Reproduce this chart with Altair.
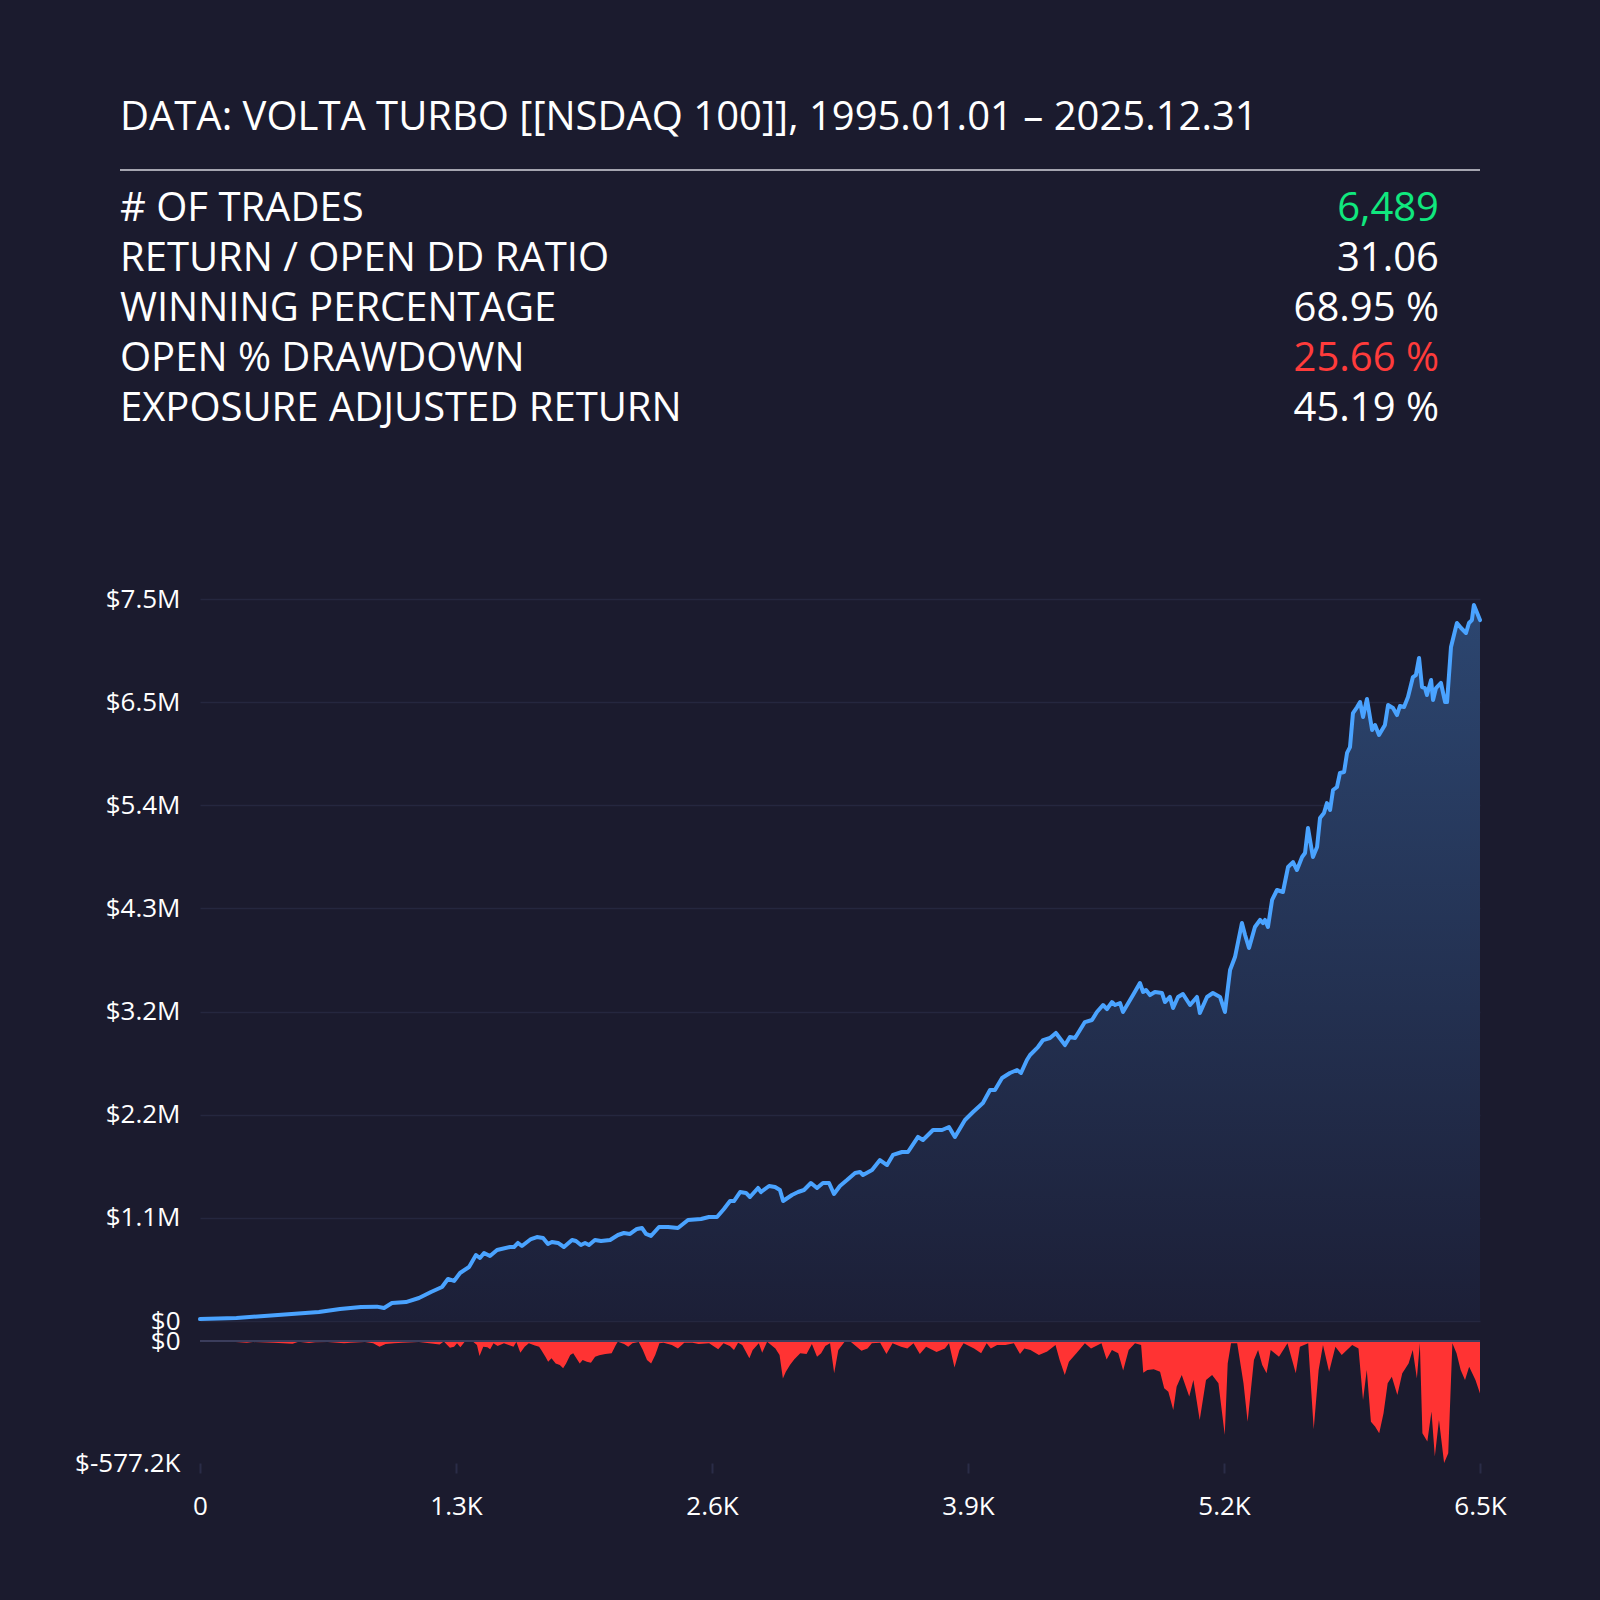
import altair as alt
import pandas as pd

# ---- header text ----
TITLE = "DATA: VOLTA TURBO [[NSDAQ 100]], 1995.01.01 \u2013 2025.12.31"
stat_labels = [
    "# OF TRADES",
    "RETURN / OPEN DD RATIO",
    "WINNING PERCENTAGE",
    "OPEN % DRAWDOWN",
    "EXPOSURE ADJUSTED RETURN",
]
stat_values = ["6,489", "31.06", "68.95 %", "25.66 %", "45.19 %"]
stat_colors = ["#10e87e", "#ffffff", "#ffffff", "#ff3b3b", "#ffffff"]

# ---- equity curve (trade number, equity in $K) ----
equity_trade = [
    0, 185, 395, 603, 710, 816, 897, 933, 973, 1044,
    1110, 1171, 1227, 1257, 1288, 1318, 1364, 1399, 1419, 1440,
    1470, 1506, 1572, 1592, 1612, 1632, 1678, 1708, 1739, 1764,
    1784, 1815, 1845, 1886, 1906, 1931, 1952, 1972, 2002, 2033,
    2079, 2119, 2149, 2180, 2215, 2241, 2261, 2286, 2327, 2373,
    2423, 2474, 2540, 2580, 2621, 2656, 2687, 2707, 2738, 2768,
    2788, 2829, 2844, 2885, 2915, 2940, 2956, 3001, 3032, 3062,
    3097, 3128, 3158, 3189, 3214, 3244, 3280, 3321, 3346, 3361,
    3407, 3447, 3483, 3513, 3559, 3589, 3640, 3665, 3716, 3762,
    3797, 3827, 3878, 3919, 3969, 4005, 4030, 4066, 4106, 4142,
    4162, 4192, 4208, 4248, 4274, 4309, 4339, 4385, 4410, 4436,
    4486, 4522, 4547, 4578, 4598, 4623, 4639, 4664, 4679, 4730,
    4765, 4781, 4796, 4816, 4841, 4877, 4892, 4917, 4933, 4958,
    4983, 5019, 5054, 5069, 5105, 5135, 5171, 5196, 5222, 5247,
    5282, 5298, 5318, 5348, 5374, 5389, 5399, 5414, 5435, 5460,
    5490, 5516, 5541, 5561, 5587, 5602, 5617, 5642, 5663, 5678,
    5698, 5713, 5729, 5744, 5764, 5779, 5800, 5815, 5830, 5845,
    5866, 5881, 5896, 5916, 5942, 5957, 5977, 6007, 6023, 6048,
    6068, 6083, 6104, 6124, 6149, 6164, 6180, 6195, 6210, 6220,
    6241, 6251, 6266, 6291, 6312, 6322, 6342, 6372, 6393, 6418,
    6433, 6448, 6458, 6489,
]
equity_k = [
    20, 31, 63, 94, 125, 146, 150, 136, 188, 198,
    240, 303, 355, 439, 418, 501, 564, 689, 658, 710,
    679, 741, 773, 773, 815, 783, 856, 877, 867, 804,
    825, 815, 773, 846, 835, 794, 815, 794, 846, 835,
    846, 898, 919, 909, 961, 971, 909, 888, 982, 982,
    971, 1055, 1065, 1086, 1086, 1170, 1253, 1253, 1347, 1337,
    1295, 1389, 1347, 1410, 1399, 1368, 1253, 1316, 1347, 1368,
    1441, 1389, 1441, 1441, 1326, 1410, 1472, 1546, 1556, 1525,
    1577, 1681, 1629, 1734, 1765, 1765, 1922, 1890, 1995, 1995,
    2026, 1922, 2099, 2183, 2277, 2412, 2412, 2538, 2590, 2621,
    2590, 2726, 2778, 2861, 2934, 2955, 3008, 2882, 2966, 2955,
    3122, 3143, 3227, 3300, 3258, 3331, 3300, 3321, 3227, 3404,
    3530, 3436, 3457, 3404, 3436, 3425, 3331, 3384, 3269, 3384,
    3415, 3300, 3384, 3216, 3384, 3425, 3384, 3227, 3666, 3801,
    4156, 4031, 3895, 4115, 4188, 4156, 4188, 4115, 4397, 4501,
    4480, 4741, 4793, 4710, 4846, 4887, 5148, 4846, 4950, 5253,
    5305, 5409, 5336, 5545, 5577, 5723, 5733, 5932, 5994, 6349,
    6412, 6464, 6308, 6496, 6172, 6224, 6120, 6224, 6433, 6402,
    6328, 6422, 6412, 6516, 6725, 6746, 6924, 6621, 6610, 6537,
    6694, 6485, 6610, 6663, 6464, 6464, 7039, 7289, 7237, 7185,
    7289, 7320, 7477, 7320,
]

# ---- open drawdown (trade number, depth in $K) ----
dd_trade = [
    0, 80, 143, 237, 269, 374, 469, 500, 553, 584,
    647, 731, 763, 836, 878, 910, 941, 984, 1026, 1110,
    1215, 1236, 1267, 1288, 1303, 1320, 1341, 1383, 1404, 1417,
    1436, 1457, 1471, 1488, 1509, 1541, 1572, 1589, 1604, 1624,
    1646, 1667, 1698, 1719, 1730, 1751, 1765, 1782, 1803, 1824,
    1841, 1856, 1877, 1892, 1908, 1925, 1940, 1961, 1982, 2003,
    2024, 2055, 2087, 2108, 2118, 2150, 2171, 2192, 2224, 2245,
    2266, 2287, 2308, 2329, 2350, 2392, 2423, 2455, 2497, 2528,
    2581, 2602, 2627, 2654, 2686, 2707, 2728, 2749, 2785, 2802,
    2833, 2850, 2875, 2917, 2938, 2955, 2970, 2991, 3012, 3043,
    3075, 3102, 3128, 3149, 3170, 3194, 3215, 3236, 3268, 3300,
    3353, 3384, 3406, 3448, 3480, 3511, 3554, 3586, 3617, 3649,
    3681, 3734, 3776, 3797, 3825, 3850, 3871, 3924, 3960, 3988,
    4009, 4041, 4083, 4126, 4157, 4179, 4210, 4253, 4295, 4337,
    4358, 4384, 4405, 4443, 4486, 4517, 4570, 4596, 4623, 4655,
    4680, 4708, 4740, 4771, 4782, 4803, 4835, 4867, 4888, 4909,
    4934, 4951, 4977, 5015, 5036, 5068, 5100, 5131, 5163, 5195,
    5210, 5227, 5258, 5290, 5311, 5343, 5364, 5385, 5407, 5428,
    5470, 5513, 5555, 5576, 5618, 5646, 5671, 5693, 5724, 5756,
    5788, 5841, 5873, 5896, 5915, 5936, 5957, 5978, 6000, 6021,
    6042, 6070, 6095, 6127, 6148, 6169, 6184, 6197, 6222, 6243,
    6260, 6281, 6307, 6328, 6349, 6370, 6391, 6413, 6434, 6466,
    6489,
]
dd_k = [
    0, 3, 2, 8, 5, 8, 13, 3, 9, 6,
    5, 11, 8, 5, 11, 27, 14, 11, 8, 5,
    17, 2, 32, 27, 11, 30, 5, 2, 19, 71,
    27, 30, 39, 11, 24, 11, 21, 27, 5, 55,
    27, 11, 21, 27, 43, 74, 98, 82, 106, 114,
    129, 106, 66, 58, 82, 106, 90, 98, 103, 74,
    68, 61, 58, 19, 3, 14, 27, 11, 5, 43,
    90, 106, 66, 11, 8, 19, 35, 8, 8, 14,
    11, 24, 39, 11, 24, 43, 8, 19, 82, 43,
    11, 55, 3, 35, 66, 177, 145, 114, 87, 58,
    61, 14, 74, 58, 24, 11, 153, 43, 3, 5,
    46, 35, 11, 8, 61, 11, 27, 35, 11, 61,
    27, 52, 35, 11, 125, 43, 11, 35, 58, 11,
    35, 19, 19, 11, 61, 35, 43, 66, 50, 19,
    90, 161, 98, 58, 11, 35, 11, 87, 43, 58,
    140, 43, 11, 19, 150, 137, 134, 145, 224, 240,
    327, 216, 161, 263, 185, 374, 185, 161, 200, 445,
    106, 11, 11, 200, 382, 90, 43, 113, 153, 43,
    74, 11, 153, 27, 11, 418, 137, 19, 145, 27,
    66, 19, 35, 279, 137, 382, 405, 437, 342, 200,
    169, 255, 153, 106, 43, 177, 11, 437, 476, 334,
    547, 374, 577.2, 531, 11, 58, 137, 185, 122, 185,
    248,
]

TOTAL_TRADES = 6489
EQUITY_TOP = 7.54e6
DD_BOTTOM = -577200

BG = "#1b1b2e"
FONT = "Open Sans"
TEXT = "#ffffff"

equity_df = pd.DataFrame({"trade": equity_trade, "equity": [v * 1000 for v in equity_k]})
dd_df = pd.DataFrame({"trade": dd_trade, "dd": [-v * 1000 for v in dd_k]})
stats_df = pd.DataFrame({
    "row": list(range(len(stat_labels))),
    "label": stat_labels,
    "value": stat_values,
    "color": stat_colors,
})

x_ticks = [TOTAL_TRADES * i / 5 for i in range(6)]
y_ticks = [EQUITY_TOP * i / 7 for i in range(8)]
x_scale = alt.Scale(domain=[0, TOTAL_TRADES], nice=False, zero=False)
one_row = pd.DataFrame({"t": [0]})

# ---- header: title, divider and stat rows ----
row_y = alt.Y("row:O", axis=None, scale=alt.Scale(type="point", range=[130, 330], padding=0))
# transparent frame rule that pins the canvas' top-left corner
frame_top = alt.Chart(one_row).mark_rule(color=BG, opacity=0).encode(
    x=alt.value(-200), x2=alt.value(1400), y=alt.value(-79)
)
title_mark = alt.Chart(pd.DataFrame({"t": [TITLE]})).mark_text(
    align="left", baseline="middle", font=FONT, fontSize=40, color=TEXT
).encode(x=alt.value(-80), y=alt.value(39), text="t:N")
divider = alt.Chart(one_row).mark_rule(
    color="#d4d4dc", strokeWidth=1.5
).encode(x=alt.value(-80), x2=alt.value(1280), y=alt.value(91))
stat_names = alt.Chart(stats_df).mark_text(
    align="left", baseline="middle", font=FONT, fontSize=40, color=TEXT
).encode(x=alt.value(-80), y=row_y, text="label:N")
stat_nums = alt.Chart(stats_df).mark_text(
    align="right", baseline="middle", font=FONT, fontSize=40
).encode(x=alt.value(1239), y=row_y, text="value:N", color=alt.Color("color:N", scale=None))
header = alt.layer(frame_top, title_mark, divider, stat_names, stat_nums).properties(
    width=1280, height=500
)

# ---- equity panel ----
equity_y = alt.Y(
    "equity:Q",
    scale=alt.Scale(domain=[0, EQUITY_TOP], nice=False),
    axis=alt.Axis(
        values=y_ticks,
        labelExpr="datum.value == 0 ? '$0' : '$' + format(datum.value / 1000000, '.1f') + 'M'",
        grid=True, gridColor="#25273f", gridWidth=1.5,
        ticks=False, domain=False, labelPadding=20, title=None,
    ),
)
equity_x = alt.X("trade:Q", scale=x_scale, axis=None)
fill = alt.Gradient(
    gradient="linear",
    stops=[alt.GradientStop(color="#2c4670", offset=0), alt.GradientStop(color="#1c1f37", offset=1)],
    x1=0, x2=0, y1=0, y2=1,
)
equity_area = alt.Chart(equity_df).mark_area(color=fill).encode(x=equity_x, y=equity_y)
equity_line = alt.Chart(equity_df).mark_line(
    color="#4aa3ff", strokeWidth=4, strokeJoin="round", strokeCap="round"
).encode(x=equity_x, y="equity:Q")
equity_panel = alt.layer(equity_area, equity_line).properties(width=1280, height=722)

# ---- drawdown panel ----
dd_x = alt.X(
    "trade:Q", scale=x_scale,
    axis=alt.Axis(
        values=x_ticks,
        labelExpr="datum.value == 0 ? '0' : format(datum.value / 1000, '.1f') + 'K'",
        grid=False, domain=False, tickColor="#2a2c47", tickSize=10, tickWidth=2,
        labelPadding=20, labelFlush=False, title=None,
    ),
)
dd_y = alt.Y(
    "dd:Q",
    scale=alt.Scale(domain=[DD_BOTTOM, 0], nice=False),
    axis=alt.Axis(
        values=[0, DD_BOTTOM],
        labelExpr="datum.value == 0 ? '$0' : '$' + (round(datum.value / 100) / 10) + 'K'",
        grid=False, ticks=False, domain=False, labelPadding=20, title=None,
    ),
)
dd_area = alt.Chart(dd_df).mark_area(color="#ff3333").encode(x=dd_x, y=dd_y)
zero_line = alt.Chart(pd.DataFrame({"dd": [0]})).mark_rule(
    color="#3b3d5c", strokeWidth=2
).encode(y="dd:Q")
# transparent rule that pins the canvas' bottom edge
frame_bottom = alt.Chart(one_row).mark_rule(color=BG, opacity=0).encode(
    x=alt.value(0), x2=alt.value(10), y=alt.value(259)
)
dd_panel = alt.layer(dd_area, zero_line, frame_bottom).properties(width=1280, height=122)

chart = (
    alt.vconcat(header, equity_panel, dd_panel, spacing=20, bounds="flush")
    .properties(padding={"left": 0, "top": 0, "right": 0, "bottom": 0})
    .configure(background=BG)
    .configure_view(stroke=None)
    .configure_axis(labelFont=FONT, labelFontSize=26, labelColor=TEXT)
)

chart.save("out.html", embed_options={"renderer": "svg", "actions": False})
